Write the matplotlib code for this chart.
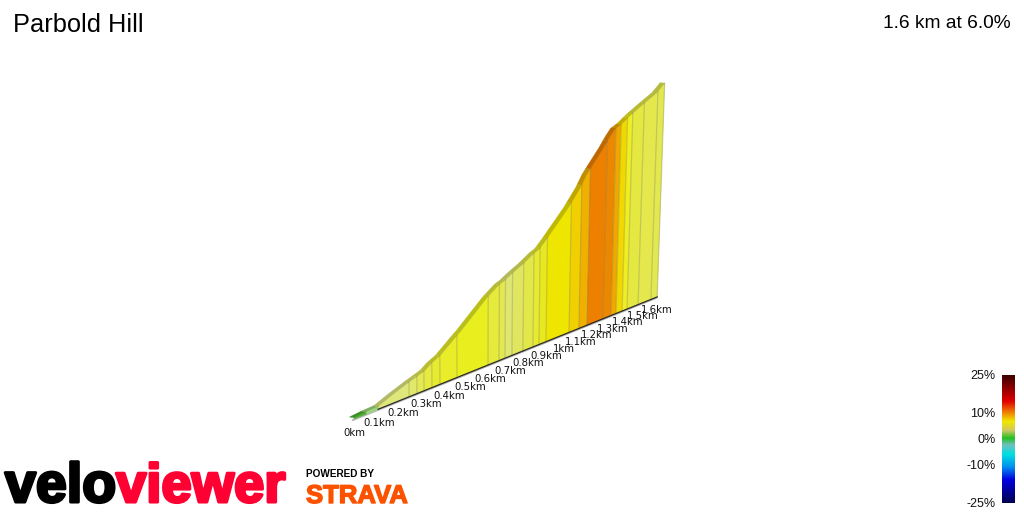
"""Gradient profile of a climb, drawn as a perspective wall (pixel-space axes)."""

import matplotlib

matplotlib.use("Agg")
import matplotlib.patheffects as pe
import matplotlib.pyplot as plt
import numpy as np
from matplotlib.colors import LinearSegmentedColormap, to_rgb

# height profile: distance along the climb (km) and height (m)
PROFILE_KM = [0.0, 0.049, 0.100, 0.164, 0.230, 0.267, 0.304, 0.334, 0.373, 0.442, 0.471,
              0.598, 0.657, 0.689, 0.724, 0.783, 0.837, 0.869, 0.908, 1.027, 1.092, 1.128,
              1.222, 1.261, 1.291, 1.331, 1.382, 1.454, 1.549, 1.6]
PROFILE_M = [0.5, 0.9, 1.05, 3.2, 5.2, 6.2, 7.2, 9.0, 10.5, 15.0, 16.8, 26.0, 29.4, 30.5,
             32.2, 34.6, 37.3, 38.5, 41.6, 51.9, 58.7, 63.6, 72.9, 77.3, 80.2, 81.7, 84.6,
             88.0, 92.3, 96.0]

# gradient bands: where each one ends (km) and its colour
SEG_END_KM = [0.049, 0.099, 0.233, 0.268, 0.300, 0.336, 0.373, 0.453, 0.605, 0.661, 0.692,
              0.728, 0.786, 0.840, 0.873, 0.912, 1.043, 1.101, 1.149, 1.247, 1.297, 1.328,
              1.367, 1.399, 1.471, 1.557, 1.6]
SEG_COLORS = ["#4CAF2E", "#9AD67A", "#DEE77A", "#E2E86A", "#E3E855", "#E6EA40", "#E6EA30",
              "#E9EC28", "#E9EE1E", "#E6EA3A", "#E3E84F", "#DFE672", "#E0E660", "#E3E84A",
              "#E6EA30", "#E8E820", "#EEE600", "#F0D000", "#F0B000", "#EE8000", "#EC8800",
              "#F0A800", "#F0D800", "#EEEE20", "#E4E840", "#E4E84C", "#E2E850"]

TICK_KM = [0.0, 0.1, 0.2, 0.3, 0.4, 0.5, 0.6, 0.7, 0.8, 0.9, 1.0, 1.1, 1.2, 1.3, 1.4, 1.5, 1.6]
TICK_LABELS = ["0km", "0.1km", "0.2km", "0.3km", "0.4km", "0.5km", "0.6km", "0.7km", "0.8km",
               "0.9km", "1km", "1.1km", "1.2km", "1.3km", "1.4km", "1.5km", "1.6km"]

CBAR_TICKS = [25, 10, 0, -10, -25]
CBAR_LABELS = ["25%", "10%", "0%", "-10%", "-25%"]
CBAR_STOPS = [(-25, "#000050"), (-16, "#0000e0"), (-11, "#0090f0"), (-6, "#00e0e0"),
              (-2.5, "#70c0c0"), (0.4, "#20c020"), (3.5, "#d0c860"), (7, "#f0e800"),
              (10, "#f09000"), (15, "#e00000"), (25, "#3d0000")]

TITLE = "Parbold Hill"
SUBTITLE = "1.6 km at 6.0%"

# projection of the road onto the image
ORIGIN_X, ORIGIN_Y = 354.0, 419.0
PX_PER_KM = 246.8
PERSP = 0.189
ROAD_SLOPE = 0.4026
PX_PER_M = 2.9
TILT = 0.000187
TILT_X = 470.0
RIBBON_DX, RIBBON_DY = -4.5, -0.5


def project(d, elev=0.0):
    d = np.asarray(d, dtype=float)
    elev = np.asarray(elev, dtype=float)
    w = 1.0 + PERSP * d
    xb = ORIGIN_X + PX_PER_KM * d / w
    yb = ORIGIN_Y - ROAD_SLOPE * (xb - ORIGIN_X)
    h = elev * PX_PER_M / w
    return xb + (xb - TILT_X) * TILT * h, yb - h


def darker(color, f=0.8):
    return tuple(c * f for c in to_rgb(color))


fig = plt.figure(figsize=(10.24, 5.12), dpi=100)
ax = fig.add_axes([0, 0, 1, 1])

# wall + top ribbon, one band at a time
start = 0.0
for end, color in zip(SEG_END_KM, SEG_COLORS):
    inner = [k for k in PROFILE_KM if start < k < end]
    ds = np.array([start] + inner + [end])
    xb, yb = project(ds)
    xt, yt = project(ds, np.interp(ds, PROFILE_KM, PROFILE_M))
    ax.fill(np.r_[xb, xt[::-1]], np.r_[yb, yt[::-1]], color=color, lw=0.3, zorder=2)
    ax.fill(np.r_[xt, xt[::-1] + RIBBON_DX], np.r_[yt, yt[::-1] + RIBBON_DY],
            color=darker(color), lw=0.3, zorder=3)
    ax.plot([xb[-1], xt[-1]], [yb[-1], yt[-1]], color="#777755", alpha=0.3, lw=0.9, zorder=4)
    start = end

# road edge
road_x, road_y = project(TICK_KM)
ax.plot(road_x - 1, road_y + 1.0, color="#b5b5b5", lw=1.4, zorder=1)
ax.plot(road_x[1:], road_y[1:], color="#2a2a2a", lw=0.9, zorder=5)

for km, label in zip(TICK_KM, TICK_LABELS):
    x, y = project(km)
    dx = np.interp(km, [0, 0.5, 1.0, 1.6], [0.5, 4.0, 2.4, -0.5])
    ax.text(x + dx, y + 13.5, label, fontsize=7.3, ha="center", va="center",
            family="DejaVu Sans", color="#111111", zorder=6)

# gradient scale
cmap = LinearSegmentedColormap.from_list(
    "gradient", [((v + 25) / 50, c) for v, c in CBAR_STOPS])
ramp = np.linspace(25, -25, 128).reshape(-1, 1)
ax.imshow(ramp, cmap=cmap, vmin=-25, vmax=25, extent=(1002, 1015, 503, 375), aspect="auto")
for val, label in zip(CBAR_TICKS, CBAR_LABELS):
    ax.text(995.5, 440 - val * 2.56, label, fontsize=9, ha="right", va="center",
            family="Liberation Sans", color="#111111")

ax.text(13, 25, TITLE, fontsize=18.3, ha="left", va="center", family="Liberation Sans")
ax.text(1011, 23, SUBTITLE, fontsize=13.8, ha="right", va="center", family="Liberation Sans")

# logos
stroke = [pe.withStroke(linewidth=2.2, foreground="black")]
ax.text(5, 502, "velo", fontsize=40, weight="bold", family="Liberation Sans", color="black",
        ha="left", va="baseline", path_effects=stroke)
stroke = [pe.withStroke(linewidth=2.2, foreground="#ff0033")]
ax.text(116, 502, "viewer", fontsize=39.2, weight="bold", family="Liberation Sans",
        color="#ff0033", ha="left", va="baseline", path_effects=stroke)
ax.text(306, 474, "POWERED BY", fontsize=7.2, weight="bold", family="Liberation Sans",
        color="black", ha="left", va="center")
stroke = [pe.withStroke(linewidth=1.0, foreground="#fc5200")]
ax.text(306, 503, "STRAVA", fontsize=18.5, weight="bold", family="Liberation Sans",
        color="#fc5200", ha="left", va="baseline", path_effects=stroke)

ax.set_xlim(0, 1024)
ax.set_ylim(512, 0)
ax.axis("off")

fig.savefig("out.png", dpi=100)
plt.close(fig)
